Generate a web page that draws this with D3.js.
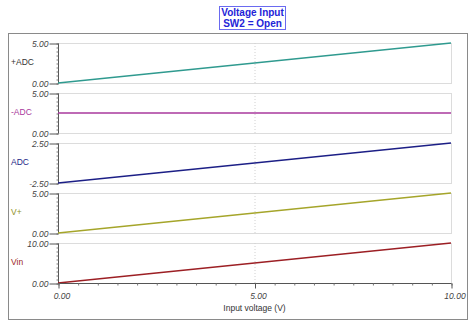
<!DOCTYPE html>
<html><head><meta charset="utf-8">
<script src="https://cdn.jsdelivr.net/npm/d3@7"></script>
<style>
body{margin:0;background:#fff;}
svg{display:block;font-family:"Liberation Sans",Arial,sans-serif;}
</style></head>
<body><svg id="c" width="474" height="323"></svg>
<script>
// Data
const xValues = [0, 2.5, 5, 7.5, 10];
const plusADC = [0, 1.25, 2.5, 3.75, 5];
const minusADC = [2.5, 2.5, 2.5, 2.5, 2.5];
const adc = [-2.5, -1.25, 0, 1.25, 2.5];
const vPlus = [0, 1.25, 2.5, 3.75, 5];
const vin = [0, 2.5, 5, 7.5, 10];
const seriesNames = ["+ADC", "-ADC", "ADC", "V+", "Vin"];
const yDomains = [[0, 5], [0, 5], [-2.5, 2.5], [0, 5], [0, 10]];
const yTickLabels = [["0.00", "5.00"], ["0.00", "5.00"], ["-2.50", "2.50"], ["0.00", "5.00"], ["0.00", "10.00"]];
const xTicks = [0, 5, 10];
const xTickLabels = ["0.00", "5.00", "10.00"];
const titleLines = ["Voltage Input", "SW2 = Open"];
const xLabel = "Input voltage (V)";

const seriesData = [plusADC, minusADC, adc, vPlus, vin];
const colors = ["#2f9a8f", "#a8389c", "#1c1f86", "#a5a52a", "#9c1f24"];
const labelColors = ["#333333", "#a8389c", "#1c1f86", "#8f8f1e", "#9c1f24"];

const svg = d3.select("#c");

// outer frame
svg.append("rect").attr("x", 8.5).attr("y", 33.5).attr("width", 459).attr("height", 286)
  .attr("fill", "#fff").attr("stroke", "#8a8a8a").attr("stroke-width", 1);

// title box
svg.append("rect").attr("x", 219.5).attr("y", 6.5).attr("width", 66).attr("height", 23)
  .attr("fill", "#fff").attr("stroke", "#6a6af0").attr("stroke-width", 1);
titleLines.forEach((t, i) => {
  svg.append("text").attr("x", 252.5).attr("y", 15.5 + i * 11)
    .attr("text-anchor", "middle").attr("font-size", 10).attr("font-weight", "bold")
    .attr("fill", "#2323d8").text(t);
});

const x = d3.scaleLinear().domain([0, 10]).range([58, 451]);
const panelTops = [43, 93, 143, 193, 243];
const panelH = 40;

seriesNames.forEach((name, i) => {
  const top = panelTops[i];
  const y = d3.scaleLinear().domain(yDomains[i]).range([top + panelH, top]);
  const g = svg.append("g");
  // frame
  g.append("rect").attr("x", x(0) + 0.5).attr("y", top + 0.5).attr("width", x(10) - x(0)).attr("height", panelH)
    .attr("fill", "none").attr("stroke", "#dcdcdc");
  // vertical grid at 5
  g.append("line").attr("x1", x(5) + 0.5).attr("x2", x(5) + 0.5).attr("y1", top).attr("y2", top + panelH)
    .attr("stroke", "#d0d0d0").attr("stroke-dasharray", "1,2");
  // y axis: minor ticks
  const minor = d3.range(0, 11).map(k => yDomains[i][0] + k * (yDomains[i][1] - yDomains[i][0]) / 10);
  const yAxisMinor = d3.axisLeft(y).tickValues(minor).tickSize(2).tickFormat("");
  const ga = g.append("g").attr("transform", `translate(${x(0) + 0.5},0.5)`).call(yAxisMinor);
  ga.selectAll("line").attr("stroke", "#777");
  ga.select(".domain").attr("stroke", "#555").attr("d", `M0,${top}V${top + panelH}`);
  const yAxisMajor = d3.axisLeft(y).tickValues(yDomains[i]).tickSize(9)
    .tickFormat((d, k) => yTickLabels[i][k]);
  const gm = g.append("g").attr("transform", `translate(${x(0) + 0.5},0.5)`).call(yAxisMajor);
  gm.select(".domain").remove();
  gm.selectAll("line").attr("stroke", "#555");
  gm.selectAll("text").attr("font-size", 8.5).attr("font-style", "italic").attr("fill", "#444")
    .attr("font-family", "Liberation Sans, Arial, sans-serif").attr("x", -10);
  // series label
  g.append("text").attr("x", 11).attr("y", top + 22).attr("font-size", 8.5)
    .attr("fill", labelColors[i]).text(name);
  // line
  const line = d3.line().x((d, k) => x(xValues[k])).y(d => y(d));
  g.append("path").datum(seriesData[i]).attr("d", line).attr("fill", "none")
    .attr("stroke", colors[i]).attr("stroke-width", 1.5);
});

// x axis
const bottom = panelTops[4] + panelH;
const xMinor = d3.range(0, 21).map(k => k * 0.5);
const gxMinor = svg.append("g").attr("transform", `translate(0.5,${bottom + 0.5})`)
  .call(d3.axisBottom(x).tickValues(xMinor).tickSize(2).tickFormat(""));
gxMinor.selectAll("line").attr("stroke", "#777");
gxMinor.select(".domain").attr("stroke", "#555").attr("d", `M${x(0)},0H${x(10)}`);
const gx = svg.append("g").attr("transform", `translate(0.5,${bottom + 0.5})`)
  .call(d3.axisBottom(x).tickValues(xTicks).tickSize(5).tickFormat((d, k) => xTickLabels[k]));
gx.select(".domain").remove();
gx.selectAll("line").attr("stroke", "#555");
gx.selectAll("text").attr("font-size", 8.5).attr("font-style", "italic").attr("fill", "#444")
  .attr("font-family", "Liberation Sans, Arial, sans-serif").attr("y", 9).attr("x", 3);

svg.append("text").attr("x", x(5)).attr("y", 311).attr("text-anchor", "middle")
  .attr("font-size", 8.5).attr("fill", "#333").text(xLabel);
</script></body></html>
